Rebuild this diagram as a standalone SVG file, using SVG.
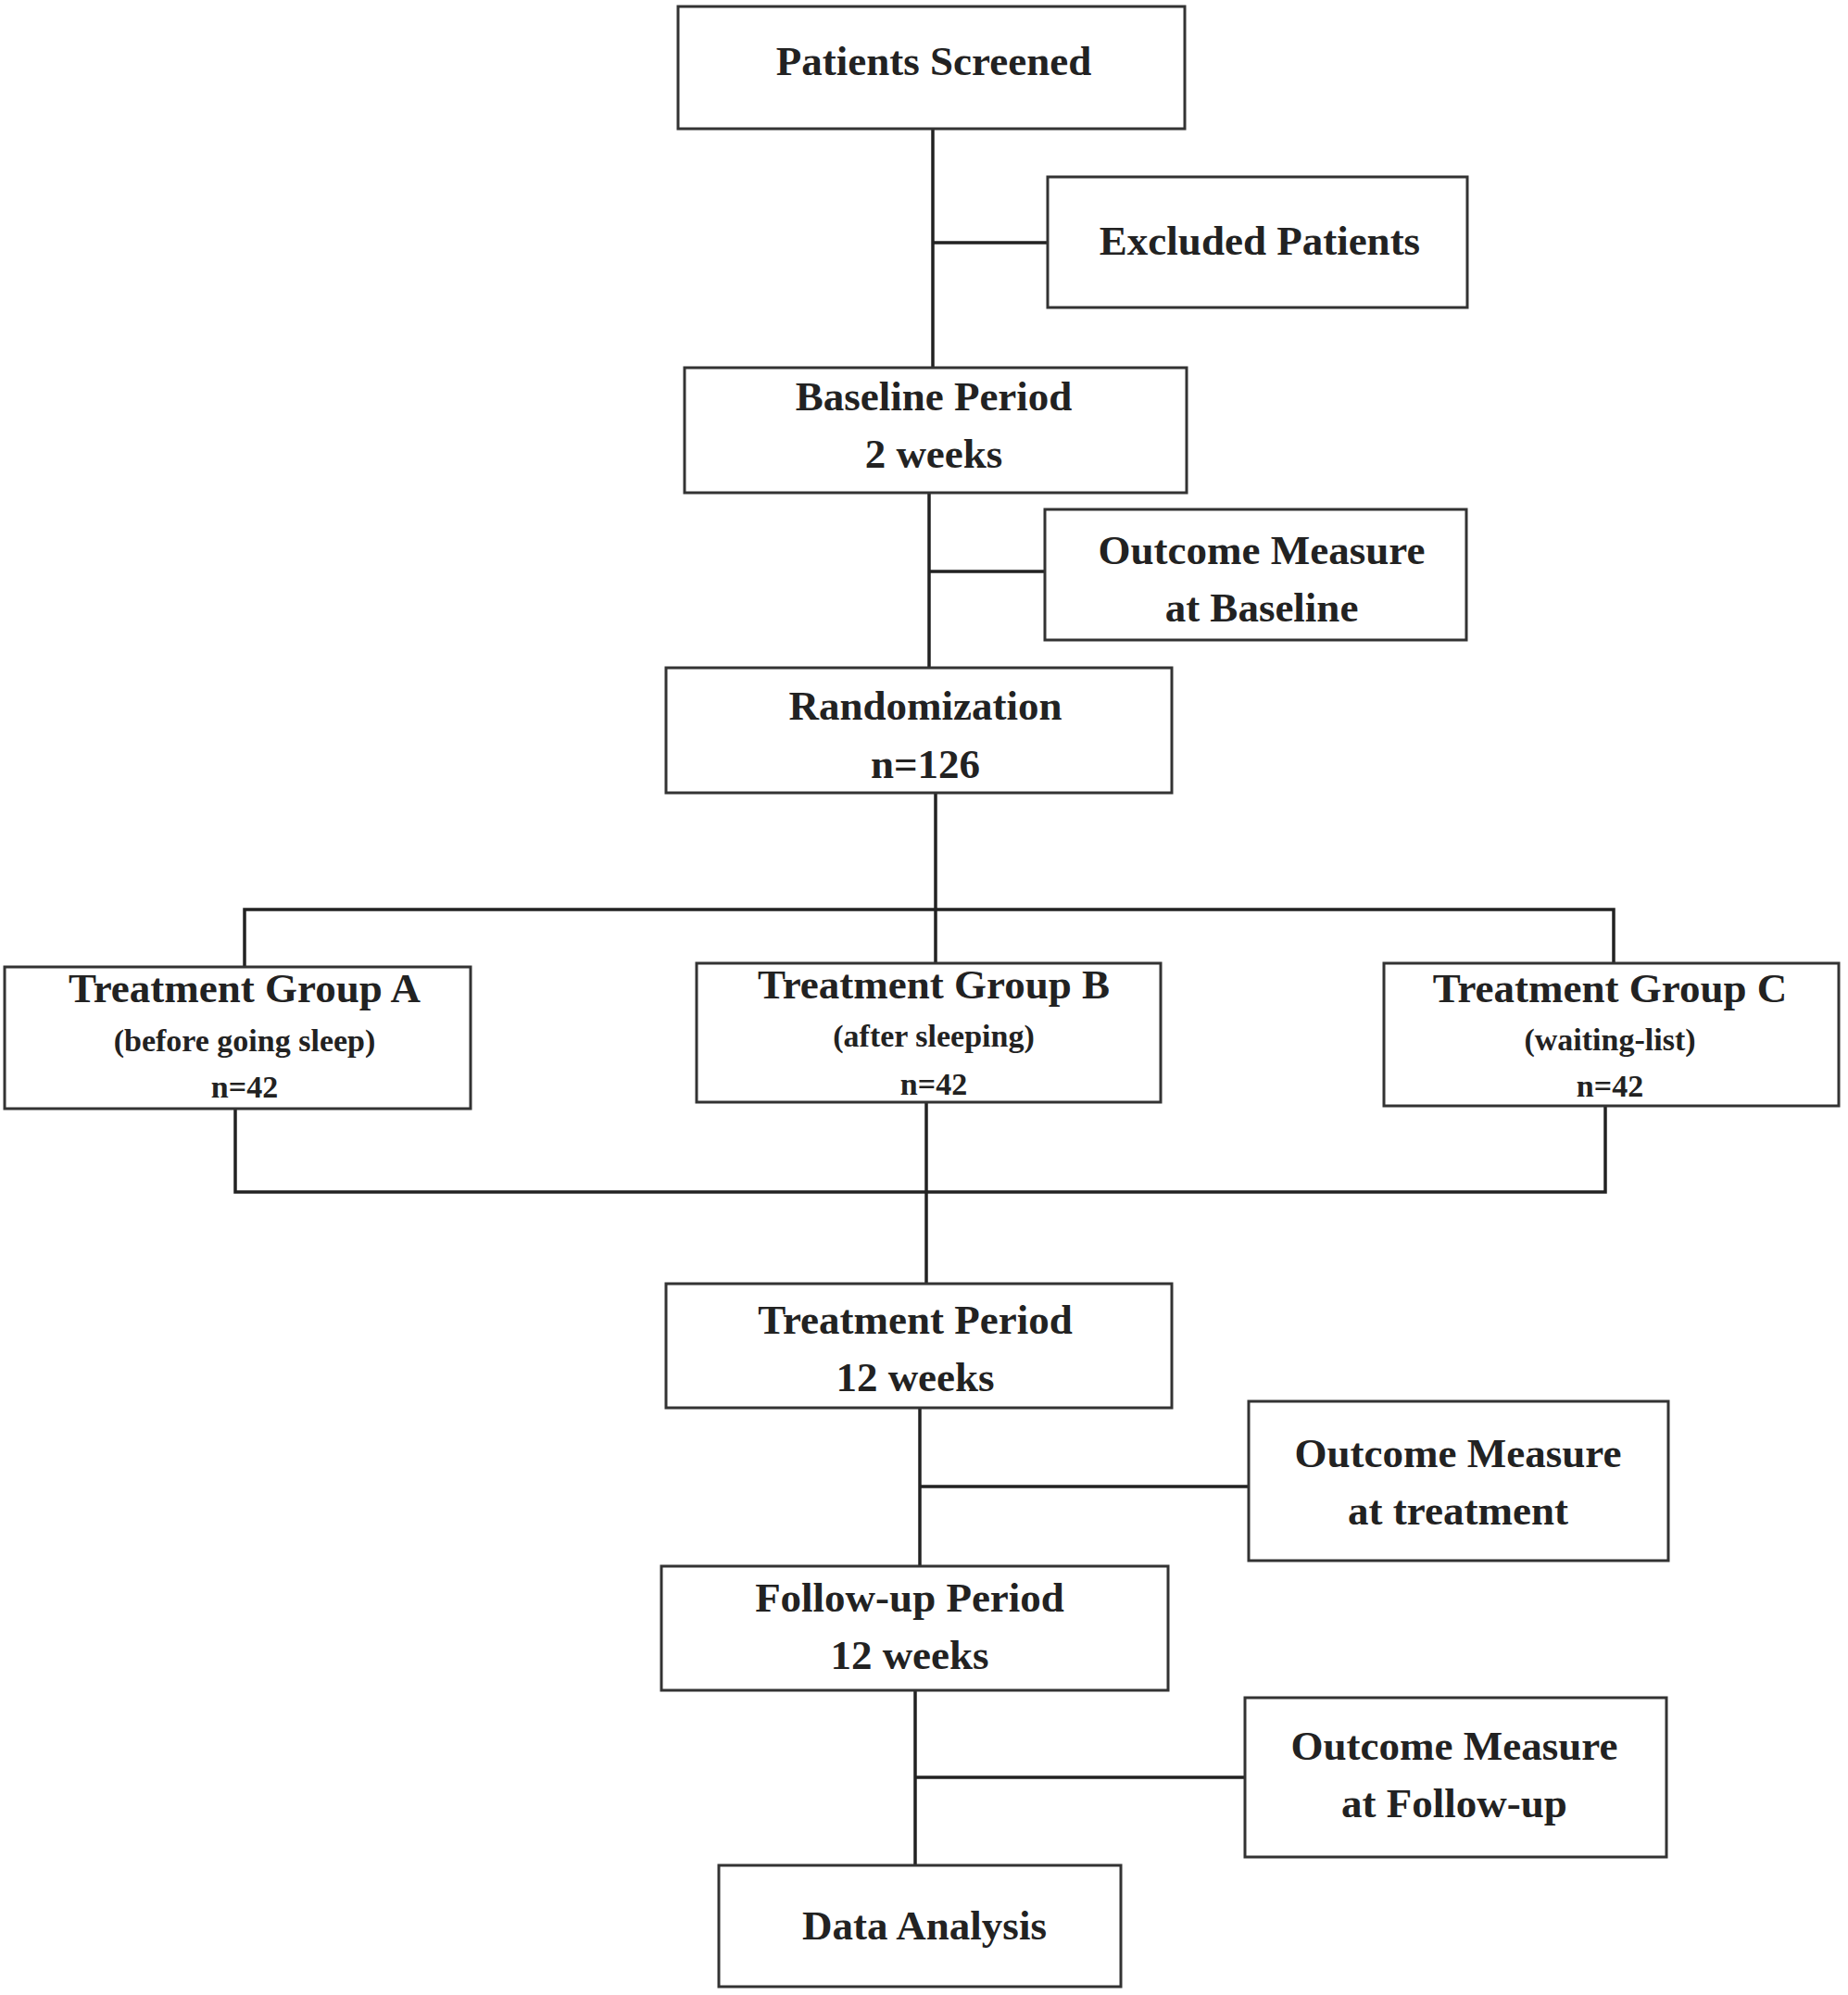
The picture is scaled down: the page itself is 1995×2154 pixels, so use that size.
<svg xmlns="http://www.w3.org/2000/svg" width="1995" height="2154" viewBox="0 0 1995 2154">
<style>
rect{fill:#fff;stroke:#333;stroke-width:3}
text{font-family:"Liberation Serif","Times New Roman",serif;font-weight:bold;font-size:45px;fill:#222;text-anchor:middle}
.s{font-size:34px}
#connectors path{fill:none;stroke:#222;stroke-width:3.5}
</style>
<rect x="0" y="0" width="1995" height="2154" style="stroke:none"/>
<g id="connectors">
<path d="M1007 139V397M1007 262H1131"/>
<path d="M1003 532V721M1003 617H1128"/>
<path d="M1010 856V1040M264 1044V982H1742V1040"/>
<path d="M254 1197V1287H1733V1194M1000 1190V1386"/>
<path d="M993 1520V1691M993 1605H1348"/>
<path d="M988 1825V2014M988 1919H1344"/>
</g>
<g id="screened"><rect x="732" y="7" width="547" height="132"/><text x="1008" y="81">Patients Screened</text></g>
<g id="excluded"><rect x="1131" y="191" width="453" height="141"/><text x="1360" y="275">Excluded Patients</text></g>
<g id="baseline"><rect x="739" y="397" width="542" height="135"/><text x="1008" y="443">Baseline Period</text><text x="1008" y="505">2 weeks</text></g>
<g id="om-baseline"><rect x="1128" y="550" width="455" height="141"/><text x="1362" y="609">Outcome Measure</text><text x="1362" y="671">at Baseline</text></g>
<g id="randomization"><rect x="719" y="721" width="546" height="135"/><text x="999" y="777">Randomization</text><text x="999" y="840">n=126</text></g>
<g id="groupA"><rect x="5" y="1044" width="503" height="153"/><text x="264" y="1082">Treatment Group A</text><text class="s" x="264" y="1135">(before going sleep)</text><text class="s" x="264" y="1185">n=42</text></g>
<g id="groupB"><rect x="752" y="1040" width="501" height="150"/><text x="1008" y="1078">Treatment Group B</text><text class="s" x="1008" y="1130">(after sleeping)</text><text class="s" x="1008" y="1182">n=42</text></g>
<g id="groupC"><rect x="1494" y="1040" width="491" height="154"/><text x="1738" y="1082">Treatment Group C</text><text class="s" x="1738" y="1134">(waiting-list)</text><text class="s" x="1738" y="1184">n=42</text></g>
<g id="treatment"><rect x="719" y="1386" width="546" height="134"/><text x="988" y="1440">Treatment Period</text><text x="988" y="1502">12 weeks</text></g>
<g id="om-treatment"><rect x="1348" y="1513" width="453" height="172"/><text x="1574" y="1584">Outcome Measure</text><text x="1574" y="1646">at treatment</text></g>
<g id="followup"><rect x="714" y="1691" width="547" height="134"/><text x="982" y="1740">Follow-up Period</text><text x="982" y="1802">12 weeks</text></g>
<g id="om-followup"><rect x="1344" y="1833" width="455" height="172"/><text x="1570" y="1900">Outcome Measure</text><text x="1570" y="1962">at Follow-up</text></g>
<g id="analysis"><rect x="776" y="2014" width="434" height="131"/><text x="998" y="2094">Data Analysis</text></g>
</svg>
